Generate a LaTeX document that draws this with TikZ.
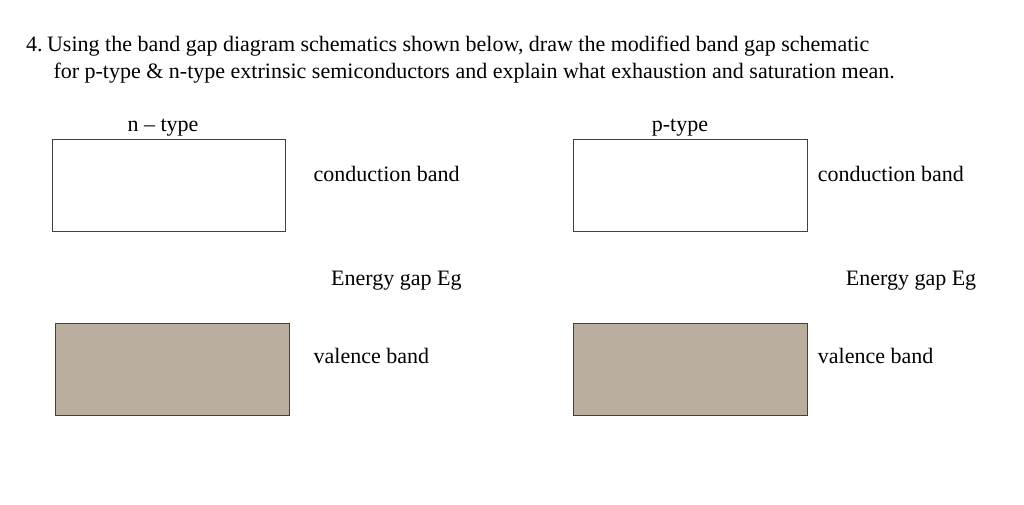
\documentclass[tikz,border=0pt]{standalone}
\usepackage{fontspec}
\setmainfont{Liberation Serif}
\definecolor{valfill}{RGB}{186,174,158}
\definecolor{edge}{RGB}{64,64,64}
\begin{document}
\begin{tikzpicture}[x=1pt,y=-1pt,
  txt/.style={inner sep=0pt,font=\fontsize{22}{24}\selectfont,text=black},
  cband/.style={draw=edge,line width=1pt,fill=white},
  vband/.style={draw=edge,line width=1pt,fill=valfill}]
\useasboundingbox[fill=white] (0,0) rectangle (1024,504);
% heading
\node[txt,anchor=base west] (h1) at (26,51.7) {4.\kern0.2em Using the band gap diagram schematics shown below, draw the modified band gap schematic};
\node[txt,anchor=base west] (h2) at (53.3,78.3) {for p-type \& n-type extrinsic semiconductors and explain what exhaustion and saturation mean.};
% n-type
\node[txt,anchor=base] (nlab) at (163,131.7) {n -- type};
\draw[cband] (52,139.3) rectangle (285.7,231.7);
\draw[vband] (55,323.7) rectangle (289.7,415.3);
\node[txt,anchor=base west] (ncb) at (313.5,181.7) {conduction band};
\node[txt,anchor=base west] (neg) at (331,285) {Energy gap Eg};
\node[txt,anchor=base west] (nvb) at (313.5,363) {valence band};
% p-type
\node[txt,anchor=base] (plab) at (680,131.7) {p-type};
\draw[cband] (573,139.3) rectangle (807.7,231.7);
\draw[vband] (573,323.7) rectangle (807.7,415.3);
\node[txt,anchor=base west] (pcb) at (817.7,181.7) {conduction band};
\node[txt,anchor=base west] (peg) at (845.7,285) {Energy gap Eg};
\node[txt,anchor=base west] (pvb) at (817.7,363) {valence band};
\end{tikzpicture}
\end{document}
